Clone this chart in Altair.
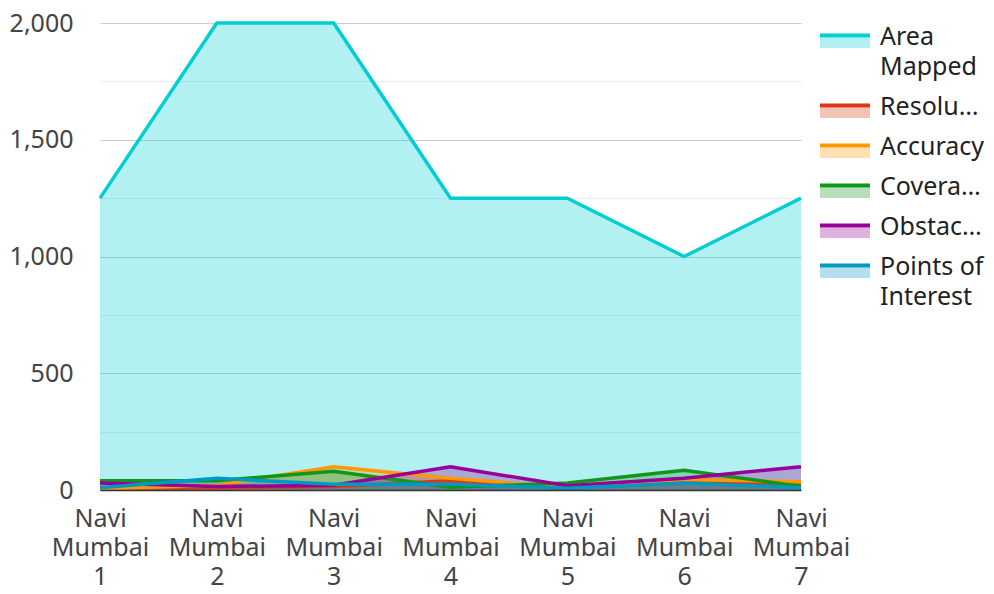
import altair as alt
import pandas as pd

locations = ["Navi Mumbai 1", "Navi Mumbai 2", "Navi Mumbai 3", "Navi Mumbai 4",
             "Navi Mumbai 5", "Navi Mumbai 6", "Navi Mumbai 7"]
series_names = ["Area Mapped", "Resolution", "Accuracy", "Coverage", "Obstacles", "Points of Interest"]
series_colors = ["#00ced1", "#dc3912", "#ff9900", "#109618", "#990099", "#0099c6"]

area_mapped = [1250, 2000, 2000, 1250, 1250, 1000, 1250]
resolution = [10, 10, 15, 40, 10, 30, 30]
accuracy = [5, 20, 100, 50, 10, 45, 35]
coverage = [40, 40, 80, 12, 30, 85, 15]
obstacles = [30, 15, 20, 100, 18, 50, 100]
points_of_interest = [10, 50, 25, 25, 8, 30, 10]

values = [area_mapped, resolution, accuracy, coverage, obstacles, points_of_interest]

rows = []
for name, vals in zip(series_names, values):
    for loc, v in zip(locations, vals):
        rows.append({"Location": loc, "Series": name, "Value": v})
df = pd.DataFrame(rows)

PLOT_W, PLOT_H = 701, 467
FONT = "Noto Sans"
FS = 25

color = alt.Color("Series:N", scale=alt.Scale(domain=series_names, range=series_colors), legend=None)

x_enc = alt.X("Location:N", sort=locations,
              scale=alt.Scale(type="point", padding=0),
              axis=alt.Axis(title=None, labelAngle=0, labelExpr="split(datum.label, ' ')",
                            labelLineHeight=29, labelFontSize=FS, labelColor="#444444",
                            labelFont=FONT, domainColor="#333333", domainWidth=1.5,
                            ticks=False, labelPadding=16, grid=False, zindex=1))
y_enc = alt.Y("Value:Q", stack=None,
              scale=alt.Scale(domain=[0, 2000], nice=False),
              axis=alt.Axis(title=None, values=list(range(0, 2001, 250)),
                            labelExpr="datum.value % 500 == 0 ? format(datum.value, ',') : ''",
                            domain=False, ticks=False, labelPadding=27, labelFontSize=FS,
                            labelFont=FONT, labelColor="#444444",
                            gridColor={"condition": {"test": "datum.value % 500 == 0", "value": "#cccccc"},
                                       "value": "#ebebeb"},
                            gridWidth=1))

base = alt.Chart(df).encode(x=x_enc, y=y_enc, color=color)
areas = base.mark_area(opacity=0.3)
lines = base.mark_line(strokeWidth=3.5)
main = alt.layer(areas, lines)

# legend laid out to the right of the plot (layout computed from names, not data)
def wrap(name, maxc=9):
    words = name.split(" ")
    out, cur = [], ""
    for w in words:
        if cur and len(cur) + 1 + len(w) > maxc:
            out.append(cur)
            cur = w
        else:
            cur = (cur + " " + w).strip()
    out.append(cur)
    return out

SYM_X0, SYM_X1, TXT_X = 720, 770, 780
sym_rows, txt_rows = [], []
pos = 14
for name in series_names:
    lines_ = wrap(name)
    sym_rows.append({"Series": name, "ly": pos - 1.5, "r1": pos + 0.5, "r2": pos + 11,
                     "x0": SYM_X0, "x1": SYM_X1})
    for k, ln in enumerate(lines_):
        txt_rows.append({"Series": name, "label": ln, "ty": pos + 30 * k, "tx": TXT_X})
    pos += 40 + 30 * (len(lines_) - 1)
sym_df = pd.DataFrame(sym_rows)
txt_df = pd.DataFrame(txt_rows)

lx = alt.Scale(domain=[0, PLOT_W])
ly = alt.Scale(domain=[0, PLOT_H], reverse=True)
leg_rect = alt.Chart(sym_df).mark_rect(opacity=0.3).encode(
    x=alt.X("x0:Q", scale=lx, axis=None), x2="x1:Q",
    y=alt.Y("r1:Q", scale=ly, axis=None), y2="r2:Q", color=color)
leg_line = alt.Chart(sym_df).mark_rule(strokeWidth=4).encode(
    x=alt.X("x0:Q", scale=lx, axis=None), x2="x1:Q",
    y=alt.Y("ly:Q", scale=ly, axis=None), color=color)
leg_text = alt.Chart(txt_df).mark_text(align="left", baseline="middle", fontSize=FS, font=FONT,
                                       color="#222222", limit=107).encode(
    x=alt.X("tx:Q", scale=lx, axis=None), y=alt.Y("ty:Q", scale=ly, axis=None), text="label:N")
legend = alt.layer(leg_rect, leg_line, leg_text)

chart = alt.layer(main, legend).resolve_scale(x="independent", y="independent").properties(
    width=PLOT_W, height=PLOT_H,
    autosize=alt.AutoSizeParams(type="none"),
    padding={"left": 92, "top": 15, "right": 185, "bottom": 96}
).configure(font=FONT).configure_view(stroke=None)

chart.save("out.html", embed_options={"renderer": "svg", "actions": False})
